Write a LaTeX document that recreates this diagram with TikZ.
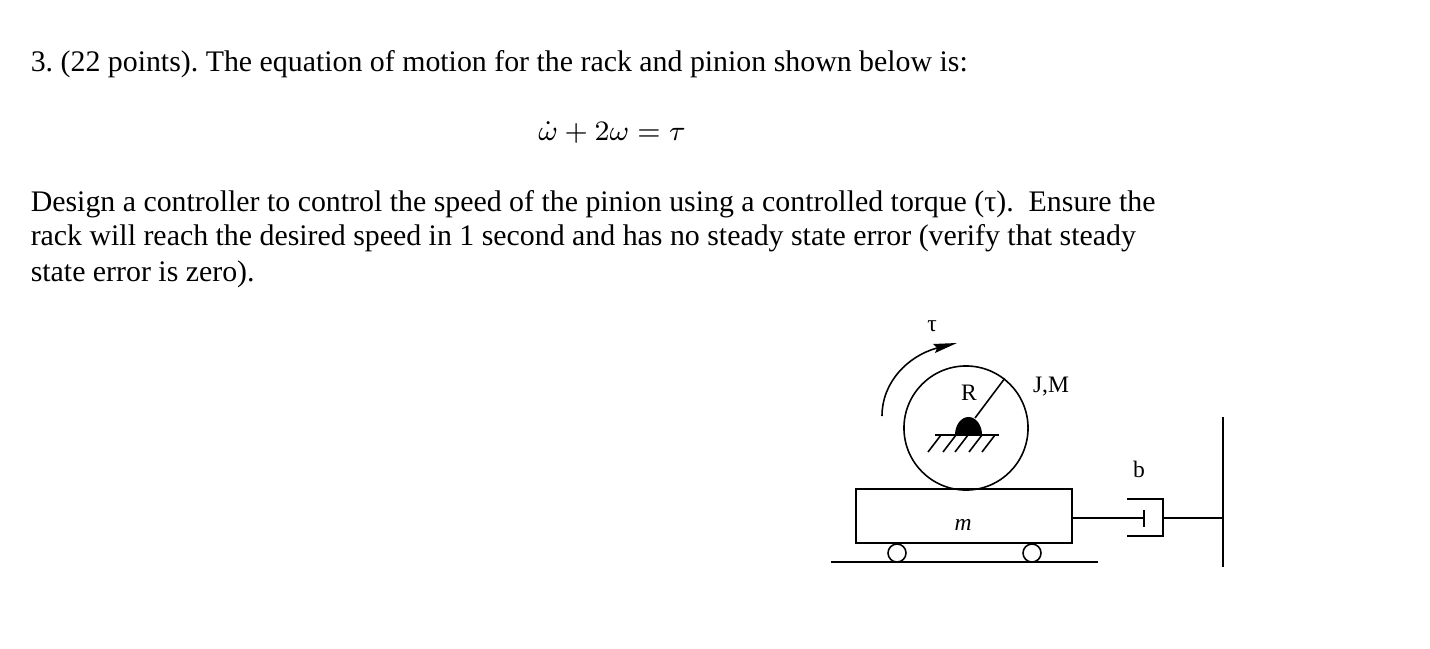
\documentclass[tikz,border=0pt]{standalone}
\usepackage{fontspec}
\setmainfont{Liberation Serif}
\usepackage{amsmath}
\usetikzlibrary{positioning}
\usetikzlibrary{calc}
\tikzset{
  para/.style={anchor=base west,inner sep=0pt,font=\fontsize{8.49pt}{10pt}\selectfont},
  lab/.style={inner sep=0pt,font=\fontsize{6.7pt}{8pt}\selectfont},
  part/.style={draw,line width=0.45pt,inner sep=0pt},
  wheel/.style={part,circle,minimum size=0.18cm},
}
\frenchspacing
\begin{document}
\begin{tikzpicture}[x=0.01cm,y=-0.01cm,line width=0.45pt]
\useasboundingbox[fill=white] (0,0) rectangle (1430,648);
% text
\node[para] (title) at (30,71) {3. (22 points). The equation of motion for the rack and pinion shown below is:};
\node[inner sep=0pt,font=\fontsize{7.9pt}{10pt}\selectfont] (eqn) at (612,133) {$\dot{\omega}+2\omega=\tau$};
\node[para] (line1) at (30,211) {Design a controller to control the speed of the pinion using a controlled torque (τ).\ \ Ensure the};
\node[para] (line2) at (30,245) {rack will reach the desired speed in 1 second and has no steady state error (verify that steady};
\node[para] (line3) at (30,281) {state error is zero).};
% cart and pinion
\node[part,minimum width=2.16cm,minimum height=0.54cm] (cart) at (964,516) {};
\node[part,circle,minimum size=1.24cm] (pinion) at (966,428) {};
\node[wheel] (wheelL) at (897,553) {};
\node[wheel] (wheelR) at (1032,553) {};
\coordinate (groundL) at (831,562);
\coordinate (groundR) at (1098,562);
\draw (groundL) -- (groundR);
% pin
\fill (955,435) arc (180:0:0.135cm and 0.18cm) -- cycle;
\draw (935,435) -- (999,435);
\foreach \x in {941,956,968,982,995}
  \draw (\x,435) -- (\x-13,452);
\coordinate (hub) at (975,418);
\draw (hub) -- (pinion.52);
% damper
\coordinate (wallT) at (1223,417);
\coordinate (wallB) at (1223,567);
\draw (wallT) -- (wallB);
\coordinate (piston) at (1144,518);
\coordinate (cylEnd) at (1163,518);
\draw (cart.east |- piston) -- (piston);
\draw (1144,510) -- (1144,527);
\draw (1127,499) -- (1163,499) -- (1163,536) -- (1127,536);
\draw (cylEnd) -- (wallT |- cylEnd);
% torque
\draw (882,416) .. controls (882,382) and (908,356) .. (937,348);
\fill (957,343) -- (935,353) -- (937,348) -- (933,344) -- cycle;
% labels
\node[lab] (tau) at (932,326) {τ};
\node[lab] (rlab) at (969,393) {R};
\node[lab] (jm) at (1051,387) {J,M};
\node[lab] (blab) at (1139,469) {b};
\node[lab] (mlab) at (963,525) {\textit{m}};
\end{tikzpicture}
\end{document}
